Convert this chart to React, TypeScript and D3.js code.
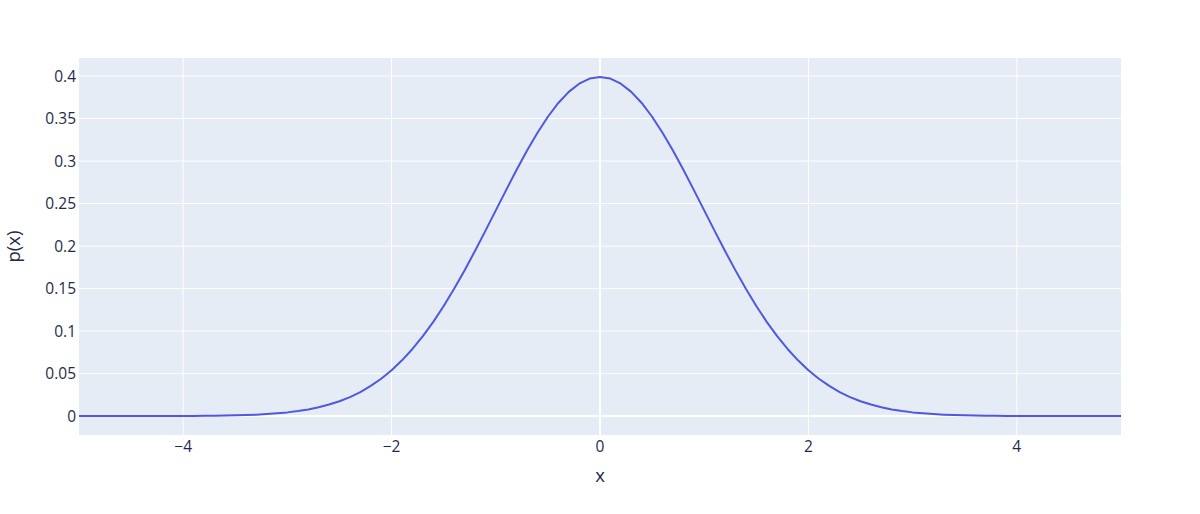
import React from "react";
import * as d3 from "d3";

const xValues: number[] = d3.range(0, 101).map((i) => Math.round((-5 + i * 0.1) * 10) / 10);
const yValues: number[] = [
  0.0000, 0.0000, 0.0000, 0.0000, 0.0000, 0.0000, 0.0000, 0.0000, 0.0000, 0.0001,
  0.0001, 0.0002, 0.0003, 0.0004, 0.0006, 0.0009, 0.0012, 0.0017, 0.0024, 0.0033,
  0.0044, 0.0060, 0.0079, 0.0104, 0.0136, 0.0175, 0.0224, 0.0283, 0.0355, 0.0440,
  0.0540, 0.0656, 0.0790, 0.0940, 0.1109, 0.1295, 0.1497, 0.1714, 0.1942, 0.2179,
  0.2420, 0.2661, 0.2897, 0.3123, 0.3332, 0.3521, 0.3683, 0.3814, 0.3910, 0.3970,
  0.3989,
  0.3970, 0.3910, 0.3814, 0.3683, 0.3521, 0.3332, 0.3123, 0.2897, 0.2661, 0.2420,
  0.2179, 0.1942, 0.1714, 0.1497, 0.1295, 0.1109, 0.0940, 0.0790, 0.0656, 0.0540,
  0.0440, 0.0355, 0.0283, 0.0224, 0.0175, 0.0136, 0.0104, 0.0079, 0.0060, 0.0044,
  0.0033, 0.0024, 0.0017, 0.0012, 0.0009, 0.0006, 0.0004, 0.0003, 0.0002, 0.0001,
  0.0001, 0.0000, 0.0000, 0.0000, 0.0000, 0.0000, 0.0000, 0.0000, 0.0000, 0.0000,
];
const xTicks: number[] = [-4, -2, 0, 2, 4];
const yTicks: number[] = [0, 0.05, 0.1, 0.15, 0.2, 0.25, 0.3, 0.35, 0.4];
const yTickLabels: string[] = ["0", "0.05", "0.1", "0.15", "0.2", "0.25", "0.3", "0.35", "0.4"];
const xTitle = "x";
const yTitle = "p(x)";

const W = 1200;
const H = 514;
const L = 79;
const R = 1121;
const T = 58;
const B = 435;
const FONT = "'Open Sans', 'Noto Sans', sans-serif";
const TEXT = "#1f2b4a";

export default function App() {
  const x = d3.scaleLinear().domain([-5, 5]).range([L, R]);
  const y = d3.scaleLinear().domain([-0.0222, 0.4212]).range([B, T]);
  const line = d3
    .line<number>()
    .x((_, i) => x(xValues[i]))
    .y((d) => y(d));
  const path = line(yValues) || "";

  return (
    <svg
      width={W}
      height={H}
      style={{ position: "absolute", left: 0, top: 0, display: "block", background: "#fff" }}
    >
      <rect x={L} y={T} width={R - L} height={B - T} fill="#E5ECF6" />
      {yTicks.filter((t) => t !== 0).map((t) => (
        <line key={"gy" + t} x1={L} x2={R} y1={y(t)} y2={y(t)} stroke="#fff" strokeWidth={1} />
      ))}
      {xTicks.filter((t) => t !== 0).map((t) => (
        <line key={"gx" + t} x1={x(t)} x2={x(t)} y1={T} y2={B} stroke="#fff" strokeWidth={1} />
      ))}
      <line x1={x(0)} x2={x(0)} y1={T} y2={B} stroke="#fff" strokeWidth={2} />
      <line x1={L} x2={R} y1={y(0)} y2={y(0)} stroke="#fff" strokeWidth={2} />
      <path d={path} fill="none" stroke="#5058e0" strokeWidth={2} strokeLinejoin="round" />
      {yTicks.map((t, i) => (
        <text
          key={"ty" + t}
          x={L - 3}
          y={y(t)}
          dy="0.36em"
          textAnchor="end"
          fontFamily={FONT}
          fontSize={15.5}
          fill={TEXT}
        >
          {yTickLabels[i]}
        </text>
      ))}
      {xTicks.map((t) => (
        <text
          key={"tx" + t}
          x={x(t)}
          y={452}
          textAnchor="middle"
          fontFamily={FONT}
          fontSize={15.5}
          fill={TEXT}
        >
          {t < 0 ? "\u2212" + Math.abs(t) : String(t)}
        </text>
      ))}
      <text x={600} y={482} textAnchor="middle" fontFamily={FONT} fontSize={18.5} fill={TEXT}>
        {xTitle}
      </text>
      <text
        transform={`translate(20,${(T + B) / 2}) rotate(-90)`}
        textAnchor="middle"
        fontFamily={FONT}
        fontSize={18.5}
        fill={TEXT}
      >
        {yTitle}
      </text>
    </svg>
  );
}
